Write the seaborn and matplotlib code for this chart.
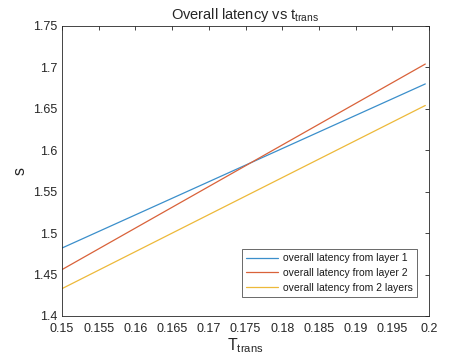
import pandas as pd
import numpy as np
import seaborn as sns
import matplotlib.pyplot as plt

# data (lines are straight, so endpoints are enough)
t_trans = [0.15, 0.1995]
layer1 = [1.482, 1.680]
layer2 = [1.456, 1.704]
both_layers = [1.433, 1.654]
series_names = ['overall latency from layer 1', 'overall latency from layer 2',
                'overall latency from 2 layers']
x_ticks = [0.15, 0.155, 0.16, 0.165, 0.17, 0.175, 0.18, 0.185, 0.19, 0.195, 0.2]
y_ticks = [1.4, 1.45, 1.5, 1.55, 1.6, 1.65, 1.7, 1.75]

data = pd.DataFrame({
    't': t_trans * 3,
    'latency': layer1 + layer2 + both_layers,
    'series': [series_names[0]] * 2 + [series_names[1]] * 2 + [series_names[2]] * 2,
})

sns.set_style("white", {'xtick.direction': 'in', 'ytick.direction': 'in',
                        'axes.edgecolor': '#262626'})
plt.rcParams['font.family'] = ['Liberation Sans', 'DejaVu Sans']
plt.rcParams['mathtext.fontset'] = 'custom'
plt.rcParams['mathtext.rm'] = 'Liberation Sans'
plt.rcParams['mathtext.it'] = 'Liberation Sans'

fig = plt.figure(figsize=(4.74, 3.55), dpi=100)
ax = fig.add_axes([0.131, 0.110, 0.774, 0.817])
palette = ['#3B8FCB', '#D9623A', '#EDB93A']
sns.lineplot(x='t', y='latency', hue='series', data=data, palette=palette,
             linewidth=0.9, ax=ax)

ax.set_xlim(0.15, 0.2)
ax.set_ylim(1.4, 1.75)
ax.set_xticks(x_ticks)
ax.set_xticklabels(['%g' % v for v in x_ticks])
ax.set_yticks(y_ticks)
ax.set_yticklabels(['%g' % v for v in y_ticks])
ax.tick_params(axis='both', labelsize=9, colors='#262626', length=3, width=0.6,
               top=True, right=True, direction='in')
ax.tick_params(axis='x', pad=5)
for s in ax.spines.values():
    s.set_linewidth(0.6)
    s.set_color('#262626')

ax.set_title(r'Overall latency vs t$_{\mathrm{trans}}$', fontsize=10.5, pad=5)
ax.set_xlabel(r'T$_{\mathrm{trans}}$', fontsize=11.5, labelpad=1)
ax.set_ylabel('s', fontsize=11.5)
leg = ax.legend(loc='lower right', bbox_to_anchor=(0.967, 0.0655), borderaxespad=0,
                fontsize=7.5, frameon=True, fancybox=False,
                handlelength=3.0, borderpad=0.4, labelspacing=0.45, handletextpad=0.5)
leg.get_frame().set_edgecolor('#262626')
leg.get_frame().set_linewidth(0.6)
for txt in leg.get_texts():
    txt.set_color('#1a1a1a')

plt.savefig('out.png', dpi=100)
